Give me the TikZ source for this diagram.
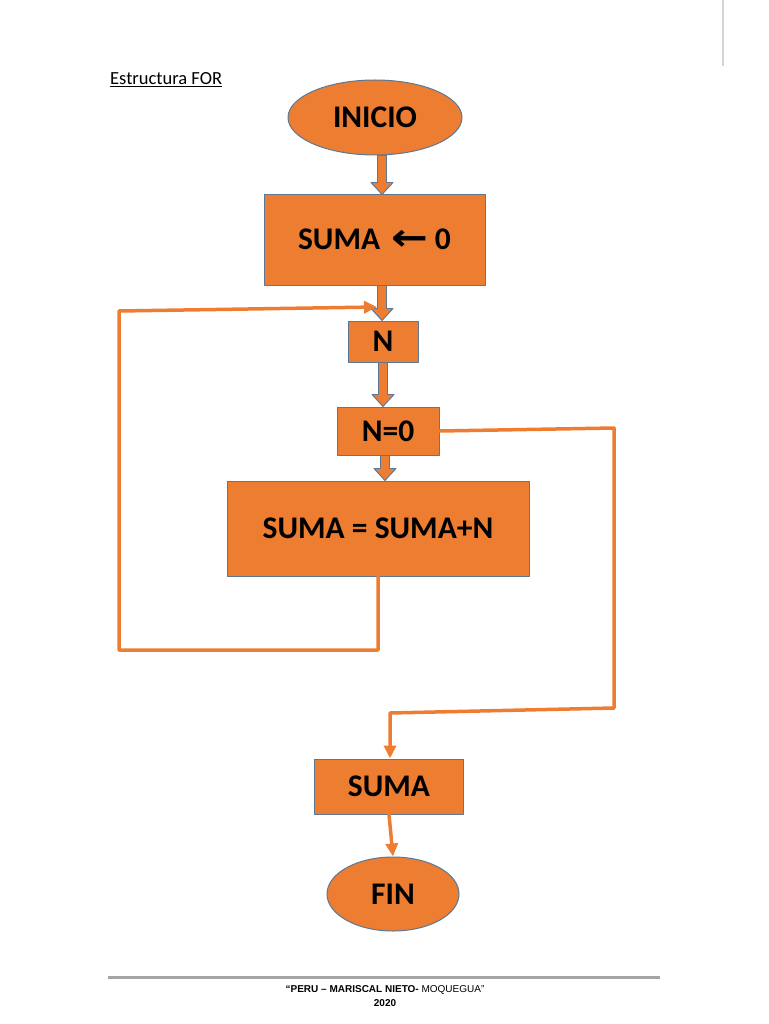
\documentclass[tikz,border=0pt]{standalone}
\usepackage{fontspec}
\setmainfont{Carlito}
\newfontfamily\footfont{Liberation Sans}
\newfontfamily\symfont{DejaVu Sans}
\usetikzlibrary{arrows.meta,calc,shapes.geometric}
\definecolor{flowfill}{HTML}{ED7D31}
\definecolor{flowedge}{HTML}{5B7896}
\definecolor{flowline}{HTML}{EE7D32}
\definecolor{footgray}{HTML}{A5A5A5}
\definecolor{marginrule}{HTML}{D4D4D4}

% Fat outlined arrow between two stacked nodes, at a fixed x (in pt).
\newcommand\blockarrow[3]{%
  \path[blockarrow] let \p1=(#2.south), \p2=(#3.north) in
    ({#1pt-4.5pt},{\y1}) -- ({#1pt-4.5pt},{\y2+12pt}) -- ({#1pt-11pt},{\y2+12pt})
    -- ({#1pt},{\y2}) -- ({#1pt+11pt},{\y2+12pt}) -- ({#1pt+4.5pt},{\y2+12pt})
    -- ({#1pt+4.5pt},{\y1}) -- cycle;}

\begin{document}
\begin{tikzpicture}[
  x=1pt,
  y=-1pt,
  line join=round,
  box/.style={rectangle,draw=flowedge,fill=flowfill,line width=1pt,inner sep=0pt,
    font=\bfseries\fontsize{31.5}{34}\selectfont},
  term/.style={box,ellipse},
  blockarrow/.style={draw=flowedge,fill=flowfill,line width=0.9pt},
  flow/.style={draw=flowline,line width=3.5pt,line cap=round,
    -{Triangle[length=13pt,width=12pt]}},
  footline/.style={draw=footgray,line width=3pt}
]
  % Match the page frame of the scanned sheet.
  \useasboundingbox (0,0) rectangle (768,1024);
  \draw[draw=marginrule,line width=2pt] (723,0) -- (723,66);

  % Title.
  \node[anchor=base west,inner sep=0pt,font=\fontsize{18.5}{20}\selectfont] (title)
    at (110,85) {\underline{Estructura FOR}};

  % Flowchart blocks.
  \node[term,minimum width=174pt,minimum height=75pt] (inicio) at (375,117.5) {INICIO};
  \node[box,minimum width=221pt,minimum height=90pt] (suma0) at (374.5,240)
    {SUMA\hspace{11pt}{\symfont\bfseries\fontsize{44}{44}\selectfont
      \raisebox{-1pt}{\scalebox{1}[0.85]{←}}}\hspace{7pt}0};
  \node[box,minimum width=70pt,minimum height=41pt] (n) at (383,341.5) {N};
  \node[box,minimum width=102pt,minimum height=48pt] (n0) at (388,431) {N=0};
  \node[box,minimum width=302pt,minimum height=95pt] (sumaN) at (378,528.5) {SUMA = SUMA+N};
  \node[box,minimum width=149pt,minimum height=55pt] (suma) at (389,786.5) {SUMA};
  \node[term,minimum width=132pt,minimum height=74pt] (fin) at (393,894) {FIN};

  % Bends of the loop back and of the exit line.
  \coordinate (loopbr) at (378,650);
  \coordinate (loopbl) at (119,650);
  \coordinate (looptl) at (119,311);
  \coordinate (loopend) at (377,307);
  \coordinate (exittr) at (614,428);
  \coordinate (exitbr) at (614,708);
  \coordinate (exitbl) at (390,713);

  % Main spine.
  \blockarrow{382}{inicio}{suma0}
  \blockarrow{382}{suma0}{n}
  \blockarrow{383}{n}{n0}
  \blockarrow{385}{n0}{sumaN}

  % Loop back to the reading step.
  \draw[flow] (sumaN.south) -- (loopbr) -- (loopbl) -- (looptl) -- (loopend);

  % Exit when N=0.
  \draw[flow] (n0.east) -- (exittr) -- (exitbr) -- (exitbl) -- (suma.north -| exitbl);
  \draw[flow] (suma.south) -- (fin.north);

  % Footer.
  \draw[footline] (108,977) -- (660,977);
  \node[inner sep=0pt,font=\footfont\fontsize{10}{12}\selectfont] (foota) at (385,990)
    {\textbf{“PERU – MARISCAL NIETO-} MOQUEGUA”};
  \node[inner sep=0pt,font=\footfont\bfseries\fontsize{10}{12}\selectfont] (footb) at (385,1003)
    {2020};
\end{tikzpicture}
\end{document}
